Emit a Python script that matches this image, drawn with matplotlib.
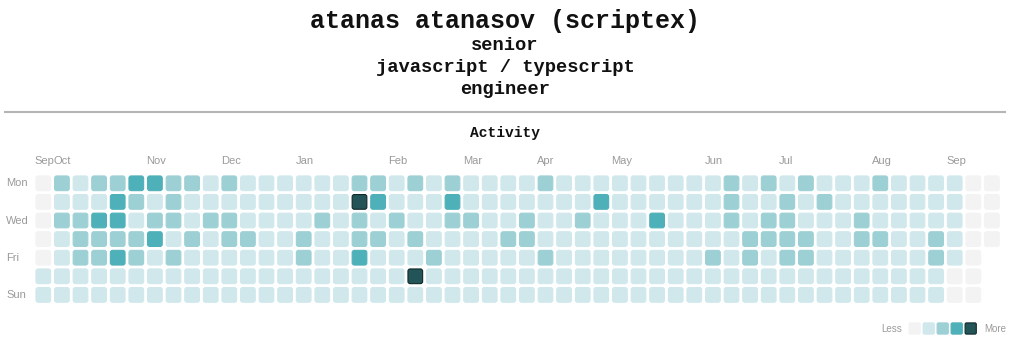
import matplotlib
matplotlib.use("Agg")
import matplotlib.pyplot as plt
import matplotlib.transforms as mtransforms
from matplotlib.patches import FancyBboxPatch

# activity level per weekday, one char per week column ('.' = no cell)
mon = "0212233221" "2111111221" "2121111211" "1111111212" "1211121111" "00"
tue = "0111321211" "1111111431" "1131111111" "3111111211" "2121111111" "00"
wed = "0223312212" "2111121212" "1122112112" "1113111212" "2111211111" "00"
thu = "0122223121" "2211211221" "2111122111" "1111111122" "2211221121" "00"
fri = "0122321211" "1111211311" "1211111211" "1111112121" "2211111121" "0."
sat = "1111111111" "1111111111" "4111111111" "1111111111" "1111111110" "0."
sun = "1111111111" "1111111111" "1111111111" "1111111111" "1111111110" "0."
rows = [mon, tue, wed, thu, fri, sat, sun]

day_labels = ["Mon", "", "Wed", "", "Fri", "", "Sun"]
month_names = ["Sep", "Oct", "Nov", "Dec", "Jan", "Feb", "Mar", "Apr",
               "May", "Jun", "Jul", "Aug", "Sep"]
month_cols = [0, 1, 6, 10, 14, 19, 23, 27, 31, 36, 40, 45, 49]

colors = ["#f3f3f3", "#d0e8ec", "#9cd0d5", "#4eb0b8", "#235457"]
edge = ["#f3f3f3", "#d0e8ec", "#9cd0d5", "#4eb0b8", "#10292b"]

W, H = 1024, 340
fig = plt.figure(figsize=(W / 100, H / 100), dpi=100)

cx = 505 / W
mono = "Liberation Mono"
fig.text(cx, 1 - 21 / H, "atanas atanasov (scriptex)", ha="center", va="center",
         fontsize=18, fontweight="bold", family=mono, color="#111111")
for y, s in [(46, "senior"), (68, "javascript / typescript"), (89, "engineer")]:
    fig.text(cx, 1 - y / H, s, ha="center", va="center",
             fontsize=13.5, fontweight="bold", family=mono, color="#111111")
fig.add_artist(plt.Line2D([5 / W, 1005 / W], [1 - 112.5 / H] * 2,
                          color="#b5b5b5", lw=1.5, transform=fig.transFigure))
fig.text(cx, 1 - 133 / H, "Activity", ha="center", va="center",
         fontsize=10.5, fontweight="bold", family=mono, color="#111111")

ncols = len(mon)
step = 18.6
left_px, top_px = 43.3 - step / 2, 183.3 - step / 2
ax = fig.add_axes([left_px / W, 1 - (top_px + 7 * step) / H,
                   ncols * step / W, 7 * step / H])
ax.set_xlim(-0.5, ncols - 0.5)
ax.set_ylim(6.5, -0.5)
ax.axis("off")

size = 0.79
for r, row in enumerate(rows):
    for c, ch in enumerate(row):
        if ch == ".":
            continue
        lv = int(ch)
        ax.add_patch(FancyBboxPatch((c - size / 2, r - size / 2), size, size,
                                    boxstyle="round,pad=0,rounding_size=0.12",
                                    fc=colors[lv], ec=edge[lv], lw=0.8))

lab_color = "#9a9a9a"
sans = "Liberation Sans"
for name, c in zip(month_names, month_cols):
    ax.text(c - 0.45, -1.2, name, ha="left", va="center", fontsize=8,
            family=sans, color=lab_color, clip_on=False)

trans = mtransforms.blended_transform_factory(fig.transFigure, ax.transData)
for r, name in enumerate(day_labels):
    if name:
        ax.text(6 / W, r, name, ha="left", va="center", fontsize=8,
                family=sans, color=lab_color, transform=trans)

# legend
lstep = 14
lax = fig.add_axes([(914.7 - lstep / 2) / W, 1 - (328.5 + lstep / 2) / H,
                    5 * lstep / W, lstep / H])
lax.set_xlim(-0.5, 4.5)
lax.set_ylim(0.5, -0.5)
lax.axis("off")
ls = 0.8
for i in range(5):
    lax.add_patch(FancyBboxPatch((i - ls / 2, -ls / 2), ls, ls,
                                 boxstyle="round,pad=0,rounding_size=0.1",
                                 fc=colors[i], ec=edge[i], lw=0.8))
lax.text(-0.9, 0, "Less", ha="right", va="center", fontsize=7, family=sans,
         color=lab_color, clip_on=False)
lax.text(5.0, 0, "More", ha="left", va="center", fontsize=7, family=sans,
         color=lab_color, clip_on=False)

fig.savefig("out.png", dpi=100)
